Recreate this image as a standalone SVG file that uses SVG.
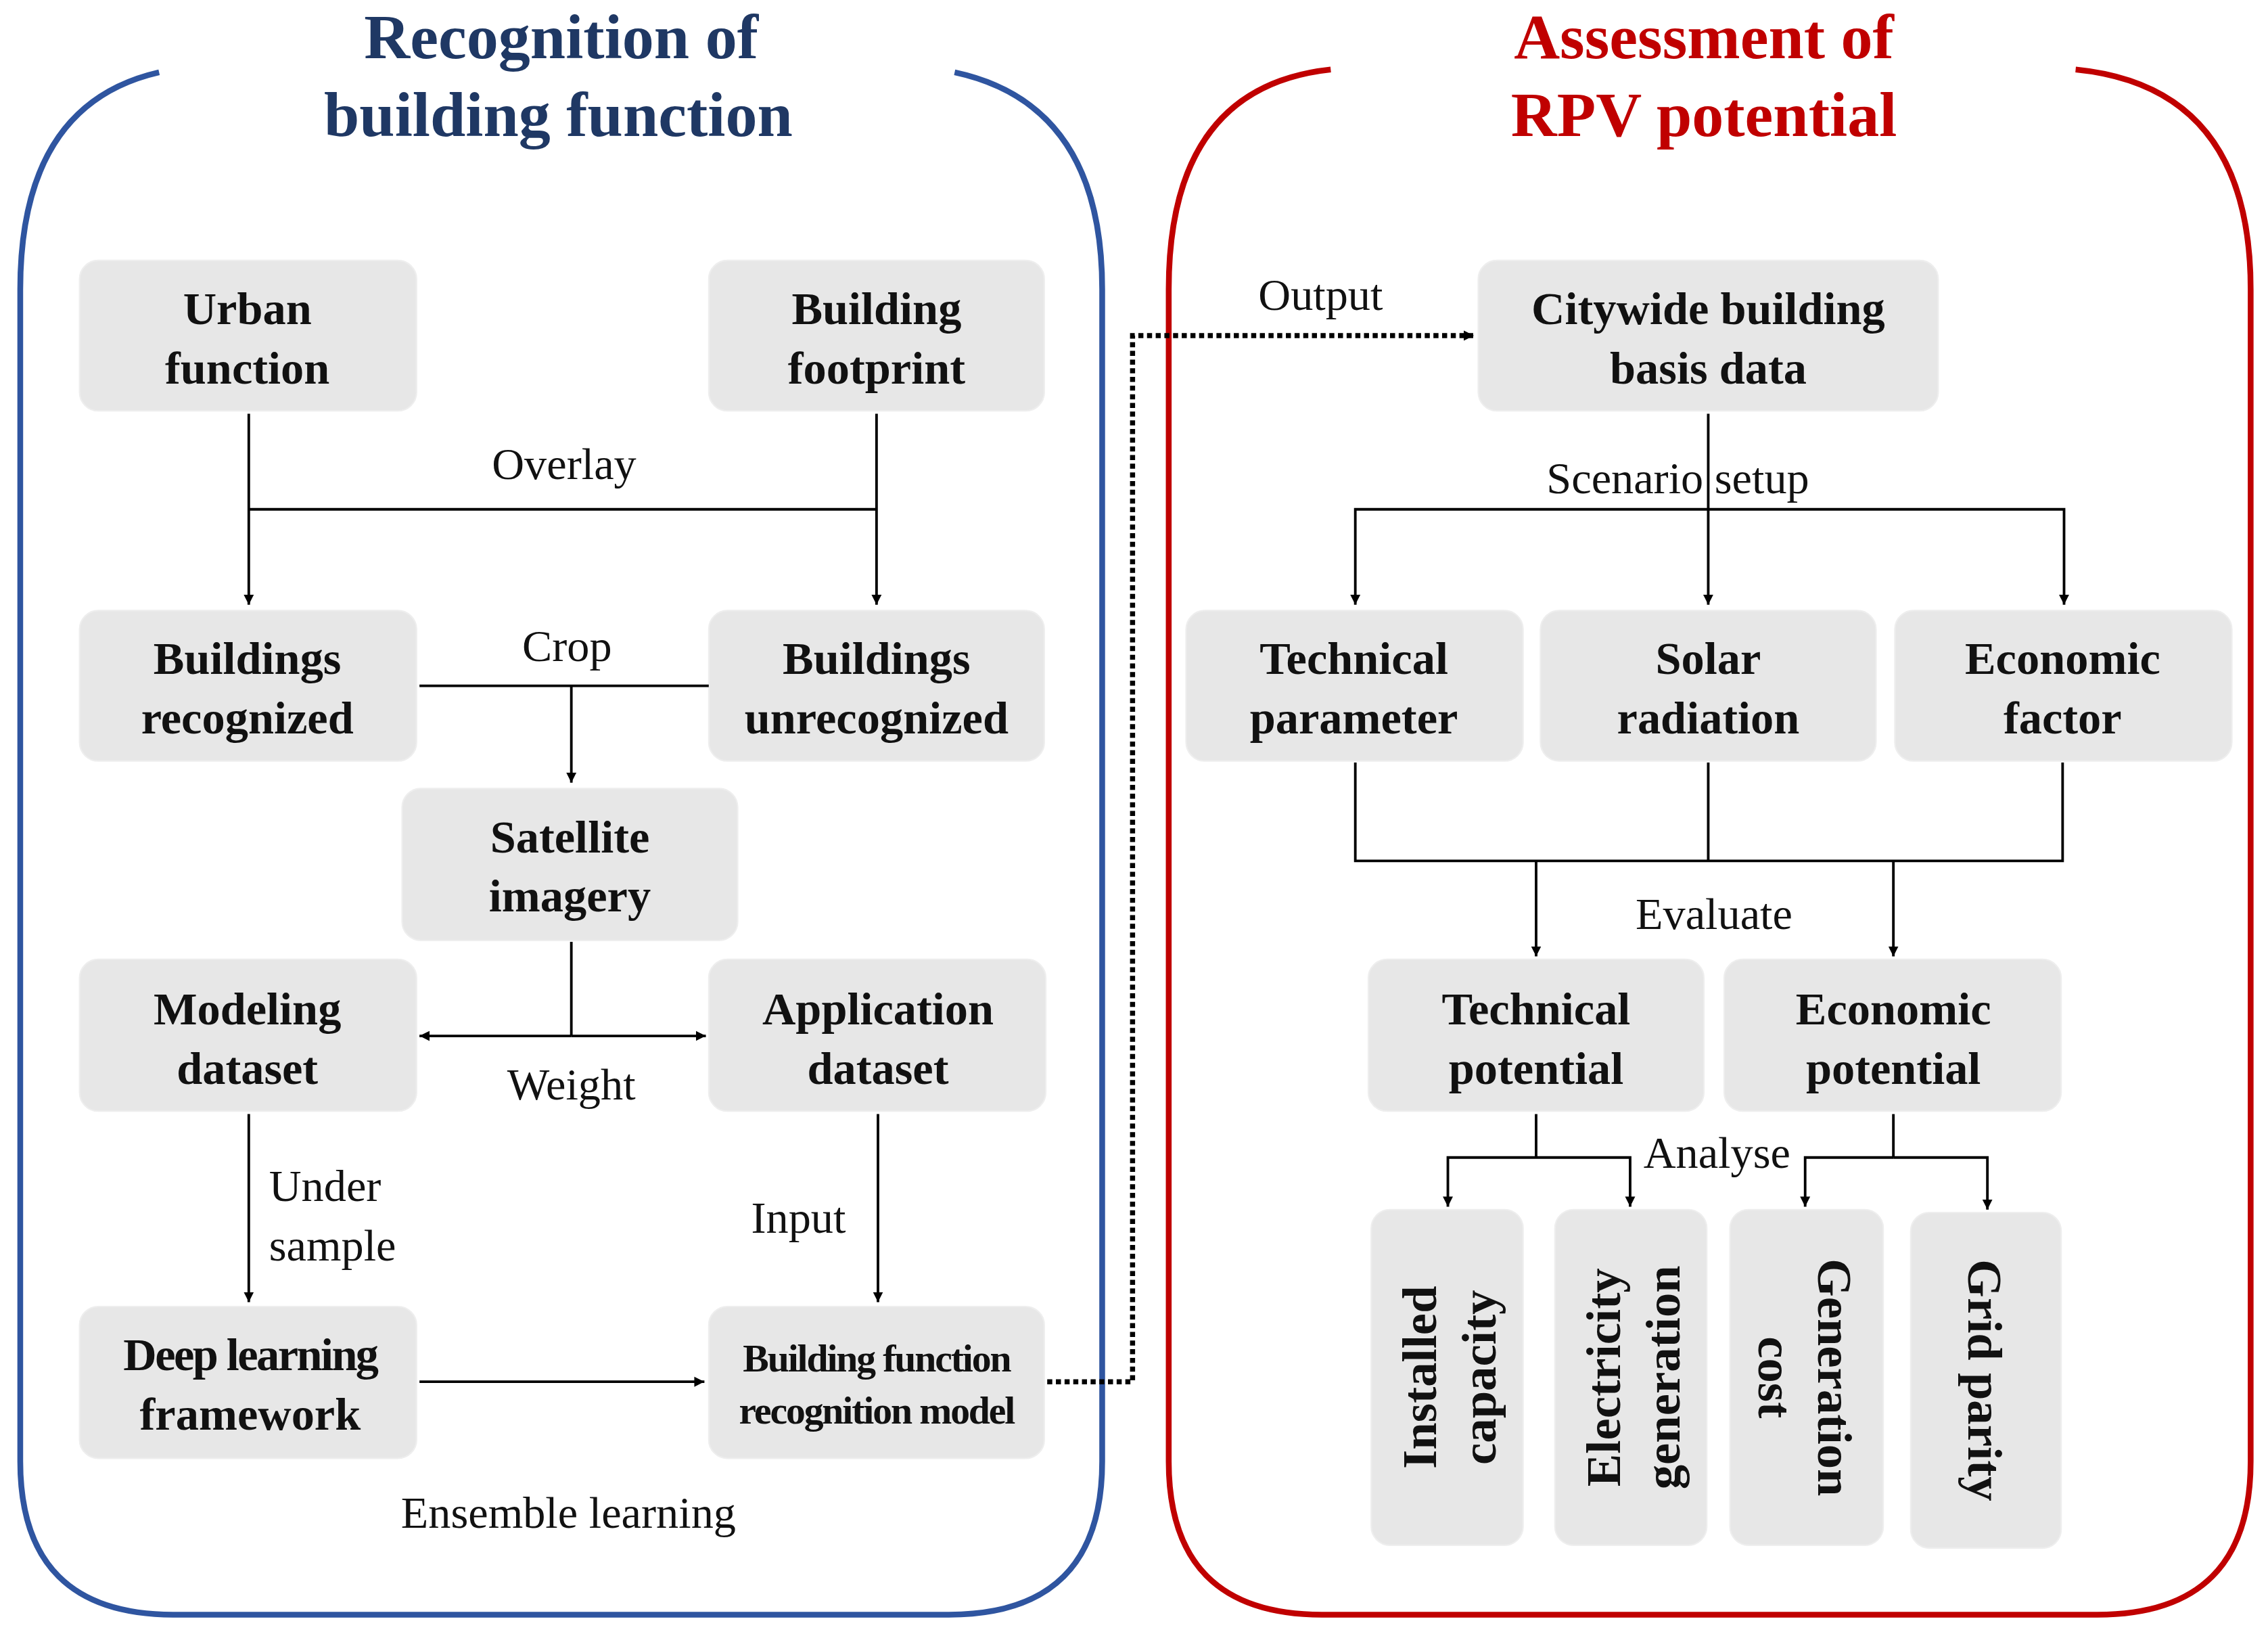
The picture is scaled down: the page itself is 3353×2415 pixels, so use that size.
<svg xmlns="http://www.w3.org/2000/svg" width="3353" height="2415" viewBox="0 0 3353 2415">
<defs>
<marker id="ah" viewBox="0 0 10 10" refX="10" refY="5" markerWidth="7" markerHeight="8" markerUnits="userSpaceOnUse" orient="auto-start-reverse"><path d="M0,0 L10,5 L0,10 z" fill="#000"/></marker>
<style>
.n rect{fill:#E7E7E7;stroke:#EEEEEE;stroke-width:1}
.n text,.t{font-family:"Liberation Serif","Times New Roman",serif;font-weight:bold;font-size:32px;text-anchor:middle;fill:#111}
.v text{font-size:34px}
.l{font-family:"Liberation Serif","Times New Roman",serif;font-size:31px;text-anchor:middle;fill:#111}
.c{fill:none;stroke:#000;stroke-width:1.8}
.a{marker-end:url(#ah)}
</style>
</defs>
<rect width="3353" height="2415" fill="#fff"/>
<g transform="scale(2.1384)">
<g id="frames" fill="none" stroke-width="4">
<path d="M110,50 Q14,72 14,200 V1010 Q14,1116 120,1116 H656 Q762,1116 762,1010 V200 Q762,72 660,50" stroke="#2F55A0"/>
<path d="M920,48 Q808,60 808,200 V1010 Q808,1116 914,1116 H1450 Q1556,1116 1556,1010 V200 Q1556,60 1435,48" stroke="#C00000"/>
</g>
<g id="titles" class="t" style="font-size:44px">
<text x="388" y="40" style="fill:#1F3864">Recognition of</text>
<text x="386" y="94" style="fill:#1F3864">building function</text>
<text x="1178" y="40" style="fill:#C00000">Assessment of</text>
<text x="1178" y="94" style="fill:#C00000">RPV potential</text>
</g>
<g id="n1" class="n"><rect x="55" y="180" width="233" height="104" rx="13"/><text x="171" y="224">Urban</text><text x="171" y="265">function</text></g>
<g id="n2" class="n"><rect x="490" y="180" width="232" height="104" rx="13"/><text x="606" y="224">Building</text><text x="606" y="265">footprint</text></g>
<g id="n3" class="n"><rect x="55" y="422" width="233" height="104" rx="13"/><text x="171" y="466">Buildings</text><text x="171" y="507">recognized</text></g>
<g id="n4" class="n"><rect x="490" y="422" width="232" height="104" rx="13"/><text x="606" y="466">Buildings</text><text x="606" y="507">unrecognized</text></g>
<g id="n5" class="n"><rect x="278" y="545" width="232" height="105" rx="13"/><text x="394" y="589">Satellite</text><text x="394" y="630">imagery</text></g>
<g id="n6" class="n"><rect x="55" y="663" width="233" height="105" rx="13"/><text x="171" y="708">Modeling</text><text x="171" y="749">dataset</text></g>
<g id="n7" class="n"><rect x="490" y="663" width="233" height="105" rx="13"/><text x="607" y="708">Application</text><text x="607" y="749">dataset</text></g>
<g id="n8" class="n"><rect x="55" y="903" width="233" height="105" rx="13"/><text x="173" y="947" letter-spacing="-1.2">Deep learning</text><text x="173" y="988">framework</text></g>
<g id="n9" class="n"><rect x="490" y="903" width="232" height="105" rx="13"/><text x="606" y="948" style="font-size:27px" letter-spacing="-1">Building function</text><text x="606" y="984" style="font-size:27px" letter-spacing="-1">recognition model</text></g>
<g id="n10" class="n"><rect x="1022" y="180" width="318" height="104" rx="13"/><text x="1181" y="224">Citywide building</text><text x="1181" y="265">basis data</text></g>
<g id="n11" class="n"><rect x="820" y="422" width="233" height="104" rx="13"/><text x="936" y="466">Technical</text><text x="936" y="507">parameter</text></g>
<g id="n12" class="n"><rect x="1065" y="422" width="232" height="104" rx="13"/><text x="1181" y="466">Solar</text><text x="1181" y="507">radiation</text></g>
<g id="n13" class="n"><rect x="1310" y="422" width="233" height="104" rx="13"/><text x="1426" y="466">Economic</text><text x="1426" y="507">factor</text></g>
<g id="n14" class="n"><rect x="946" y="663" width="232" height="105" rx="13"/><text x="1062" y="708">Technical</text><text x="1062" y="749">potential</text></g>
<g id="n15" class="n"><rect x="1192" y="663" width="233" height="105" rx="13"/><text x="1309" y="708">Economic</text><text x="1309" y="749">potential</text></g>
<g id="n16" class="n v"><rect x="948" y="836" width="105" height="232" rx="13"/><g transform="translate(1001,952) rotate(-90)"><text x="0" y="-8">Installed</text><text x="0" y="33">capacity</text></g></g>
<g id="n17" class="n v"><rect x="1075" y="836" width="105" height="232" rx="13"/><g transform="translate(1128,952) rotate(-90)"><text x="0" y="-8">Electricity</text><text x="0" y="33">generation</text></g></g>
<g id="n18" class="n v"><rect x="1196" y="836" width="106" height="232" rx="13"/><g transform="translate(1249,952) rotate(90)"><text x="0" y="-8">Generation</text><text x="0" y="33">cost</text></g></g>
<g id="n19" class="n v"><rect x="1321" y="838" width="104" height="232" rx="13"/><g transform="translate(1373,954) rotate(90)"><text x="0" y="12">Grid parity</text></g></g>
<g id="connectors">
<path class="c" d="M172,352 H606"/>
<path class="c a" d="M172,286 V418"/>
<path class="c a" d="M606,286 V418"/>
<path class="c" d="M290,474 H490"/>
<path class="c a" d="M395,474 V541"/>
<path class="c" d="M395,651 V716"/>
<path class="c a" d="M395,716 H290"/>
<path class="c a" d="M395,716 H488"/>
<path class="c a" d="M172,770 V900"/>
<path class="c a" d="M607,770 V900"/>
<path class="c a" d="M290,955 H487"/>
<path class="c a" d="M724,955 H783 V232 H1019" style="stroke-dasharray:3.5 2.5;stroke-width:3.5"/>
<path class="c a" d="M1181,286 V418"/>
<path class="c a" d="M1181,352 H937 V418"/>
<path class="c a" d="M1181,352 H1427 V418"/>
<path class="c" d="M937,527 V595 H1426 V527 M1181,527 V595"/>
<path class="c a" d="M1062,595 V661"/>
<path class="c a" d="M1309,595 V661"/>
<path class="c" d="M1062,770 V800"/>
<path class="c a" d="M1062,800 H1001 V834"/>
<path class="c a" d="M1062,800 H1127 V834"/>
<path class="c" d="M1309,770 V800"/>
<path class="c a" d="M1309,800 H1248 V834"/>
<path class="c a" d="M1309,800 H1374 V836"/>
</g>
<g id="labels" class="l">
<text x="390" y="331">Overlay</text>
<text x="392" y="457">Crop</text>
<text x="395" y="760">Weight</text>
<text x="186" y="830" style="text-anchor:start">Under</text>
<text x="186" y="871" style="text-anchor:start">sample</text>
<text x="552" y="852">Input</text>
<text x="393" y="1056">Ensemble learning</text>
<text x="913" y="214">Output</text>
<text x="1160" y="341">Scenario setup</text>
<text x="1185" y="642">Evaluate</text>
<text x="1187" y="807">Analyse</text>
</g>
</g>
</svg>
